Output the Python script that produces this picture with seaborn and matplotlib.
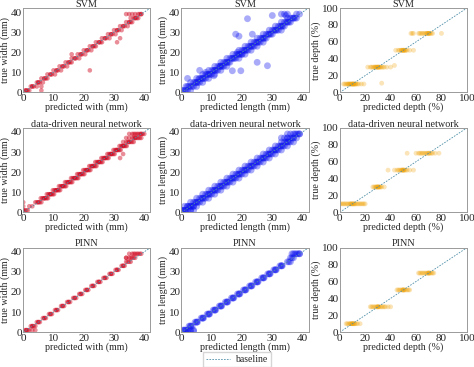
import numpy as np
import pandas as pd
import matplotlib
matplotlib.use("Agg")
import matplotlib.pyplot as plt
import seaborn as sns

# true width / length levels (mm)
levels = [1, 3, 5, 7, 9, 11, 13, 15, 17, 19, 21, 23, 25, 27, 29, 31, 33, 35, 37, 39]
# true depth levels (%)
depth_levels = [10, 30, 50, 70]

methods = ["SVM", "data-driven neural network", "PINN"]

# ---- width: predicted values per true level ----
width_svm = [
    [0.5, 1, 1, 1.5, 2], [2.5, 3, 3, 3.5, 4.5], [4.5, 5, 5, 5.5, 6.5], [6, 7, 7, 7.5, 8],
    [8, 9, 9, 9.5, 10.5], [10, 11, 11, 11.5, 12.5], [12, 13, 13, 13.5, 14.5], [14, 15, 15, 15.5, 16],
    [16, 17, 17, 17.5, 18.5], [16, 18, 19, 19, 19.5, 20.5], [20, 21, 21, 21.5, 22.5], [22, 23, 23, 23.5, 24],
    [24, 25, 25, 25.5, 26], [26, 27, 27, 27.5, 28.5], [28, 29, 29, 29.5, 30.5], [30, 31, 31, 31.5, 32.5],
    [32, 33, 33, 33.5, 34.5], [34, 35, 35, 35.5, 36], [35.5, 36.5, 37, 37, 37.5, 38],
    [34, 35, 36, 37, 38, 38.5, 39, 39],
]
width_svm_extra_x = [22, 31, 32, 6, 6]
width_svm_extra_y = [11, 25, 27, 1, 3]

width_nn = [
    [0, 0.5, 1, 1.5], [2, 3], [4, 4.5, 5, 5, 5.5, 6], [5.8, 6.3, 6.7, 7, 7, 7.4, 7.8, 8.2],
    [7.8, 8.3, 8.7, 9, 9, 9.4, 9.8, 10.2], [9.8, 10.3, 10.7, 11, 11, 11.4, 11.8, 12.2],
    [11.8, 12.3, 12.7, 13, 13, 13.4, 13.8, 14.2], [13.8, 14.3, 14.7, 15, 15, 15.4, 15.8, 16.2],
    [15.8, 16.3, 16.7, 17, 17, 17.4, 17.8, 18.2], [17.8, 18.3, 18.7, 19, 19, 19.4, 19.8, 20.2],
    [19.8, 20.3, 20.7, 21, 21, 21.4, 21.8, 22.2], [21.8, 22.3, 22.7, 23, 23, 23.4, 23.8, 24.2],
    [23.8, 24.3, 24.7, 25, 25, 25.4, 25.8, 26.2], [25.8, 26.3, 26.7, 27, 27, 27.4, 27.8, 28.2],
    [27.8, 28.3, 28.7, 29, 29, 29.4, 29.8, 30.2], [29.8, 30.3, 30.7, 31, 31, 31.4, 31.8, 32.2],
    [31.8, 32.3, 32.7, 33, 33, 33.4, 33.8, 34.2], [33, 34, 34.5, 35, 35, 35.5, 36, 36.5],
    [34, 35, 36, 36.5, 37, 37, 37.5, 38, 38.5, 39],
    [35, 36, 36.5, 37, 37.5, 38, 38.5, 39, 39, 39.5, 40],
]
width_nn_extra_x = [0, 0, 0, 33, 32]
width_nn_extra_y = [1, 3, 5, 29, 27]

width_pinn = [
    [0.5, 1, 1, 1.5, 2], [2.5, 3, 3, 3.5, 4], [4.5, 5, 5, 5.5], [6.5, 7, 7, 7.5],
    [8.5, 9, 9, 9.5], [10.5, 11, 11, 11.5], [12.5, 13, 13, 13.5], [14.5, 15, 15, 15.5],
    [16.5, 17, 17, 17.5], [18.5, 19, 19, 19.5], [20.5, 21, 21, 21.5], [22.5, 23, 23, 23.5],
    [24.5, 25, 25, 25.5], [26.5, 27, 27, 27.5], [28.5, 29, 29, 29.5], [30.5, 31, 31, 31.5],
    [32.5, 33, 33, 33.5], [34, 34.5, 35, 35.5], [34, 35, 35.5, 36, 36.5, 37],
    [35, 36, 36.5, 37, 37.5, 38, 38.5, 39],
]
width_pinn_extra_x = [3, 4, 34]
width_pinn_extra_y = [1, 1, 37]

# ---- length: predicted values per true level ----
length_svm = [
    [0, 0.5, 1, 1.5, 2, 3], [1.5, 2, 2.5, 3, 3.5, 4, 5], [3, 4, 4.5, 5, 5, 5.5, 6, 7],
    [5, 6, 6.5, 7, 7, 7.5, 8, 9], [7, 8, 8.5, 9, 9, 9.5, 10, 11], [9, 10, 10.5, 11, 11, 11.5, 12, 13],
    [11, 12, 12.5, 13, 13, 13.5, 14, 15], [13, 14, 14.5, 15, 15, 15.5, 16],
    [15, 16, 16.5, 17, 17, 17.5, 18, 19], [17, 18, 18.5, 19, 19, 19.5, 20, 21],
    [19, 20, 20.5, 21, 21, 21.5, 22, 23], [21, 22, 22.5, 23, 23, 23.5, 24, 25],
    [23, 24, 24.5, 25, 25, 25.5, 26, 27], [25, 26, 26.5, 27, 27, 27.5, 28],
    [27, 28, 28.5, 29, 29, 29.5, 30], [29, 30, 30.5, 31, 31, 31.5, 32, 33],
    [31, 32, 32.5, 33, 33, 33.5, 34], [33, 34, 34.5, 35, 35, 35.5, 36],
    [35, 36, 36.5, 37, 37, 37.5, 38], [33, 34, 35, 38, 39],
]
length_svm_extra_x = [8, 5.7, 12.9, 18.5, 20, 17.9, 19, 21.8, 23.4, 19.6, 16.8, 25, 28.4, 30, 34.5, 10.7, 6, 2]
length_svm_extra_y = [10, 6.7, 13.3, 20, 19, 29, 28, 36.7, 29, 10.8, 10.8, 15, 13.3, 38.3, 38.3, 8.3, 11, 7]

length_nn = [
    [0, 0.5, 1, 1, 1.5, 2, 3, 4], [1, 2, 2.5, 3, 3, 3.5, 4, 5], [3, 4, 4.5, 5, 5, 5.5, 6, 7],
    [5, 6, 6.5, 7, 7, 7.5, 8, 9], [7, 8, 8.5, 9, 9, 9.5, 10, 11], [9, 10, 10.5, 11, 11, 11.5, 12, 13],
    [11, 12, 12.5, 13, 13, 13.5, 14, 15], [13, 14, 14.5, 15, 15, 15.5, 16, 17],
    [15, 16, 16.5, 17, 17, 17.5, 18, 19], [17, 18, 18.5, 19, 19, 19.5, 20, 21],
    [19, 20, 20.5, 21, 21, 21.5, 22, 23], [21, 22, 22.5, 23, 23, 23.5, 24, 25],
    [23, 24, 24.5, 25, 25, 25.5, 26, 27], [25, 26, 26.5, 27, 27, 27.5, 28, 29],
    [27, 28, 28.5, 29, 29, 29.5, 30, 31], [29, 30, 30.5, 31, 31, 31.5, 32, 33],
    [31, 32, 32.5, 33, 33, 33.5, 34, 35], [33, 34, 34.5, 35, 35, 35.5, 36, 37],
    [33, 34, 35, 36, 36.5, 37, 37, 38], [35, 36, 37, 37.5, 38, 38.5, 39, 39],
]
length_nn_extra_x = [2, 3, 4, 35]
length_nn_extra_y = [3, 1, 3, 37]

length_pinn = [
    [0.5, 1, 1, 1.5, 2, 3, 4], [2.5, 3, 3, 3.5], [4.5, 5, 5, 5.3], [6.5, 7, 7, 7.3],
    [8.5, 9, 9, 9.3], [10.5, 11, 11, 11.3], [12.5, 13, 13, 13.3], [14.5, 15, 15, 15.3],
    [16.5, 17, 17, 17.3], [18.5, 19, 19, 19.3], [20.5, 21, 21, 21.3], [22.5, 23, 23, 23.3],
    [24.5, 25, 25, 25.3], [26.5, 27, 27, 27.3], [28.5, 29, 29, 29.3], [30.5, 31, 31, 31.3],
    [32.5, 33, 33, 33.3], [35, 35.5, 36], [36, 36.5, 37], [36.5, 37, 37.5, 38, 38.5, 39, 39],
]
length_pinn_extra_x = [2, 3, 4]
length_pinn_extra_y = [0, 0, 0.5]

# ---- depth: predicted values per true level ----
depth_svm = [
    [3, 4, 5, 6, 6.5, 7, 7.5, 8, 8.5, 9, 9.5, 10, 10, 10.5, 11, 11, 11.5, 12, 12.5, 13, 14, 15, 17, 19],
    [22, 24, 25, 26, 27, 27.5, 28, 28.5, 29, 29.5, 30, 30, 30.5, 31, 31.5, 32, 33, 34, 35, 37, 40],
    [44, 46, 47, 48, 48.5, 49, 49.5, 50, 50, 50.5, 51, 51.5, 52, 53, 55, 58],
    [56, 57, 58, 62, 63, 64, 65, 66, 67, 68, 68.5, 69, 69.5, 70, 70, 70.5, 71, 72, 73, 80],
]
depth_svm_extra_x = [33, 43]
depth_svm_extra_y = [11, 32]

depth_nn = [
    [0, 1, 2, 3, 4, 5, 6, 7, 8, 8.5, 9, 9.5, 10, 10.5, 11, 11.5, 12, 13, 14, 15, 16, 17, 18, 19, 20],
    [26, 27, 28, 28.5, 29, 29.5, 30, 30, 30.5, 31, 31.5, 32, 33, 35],
    [43, 45, 46, 47, 48, 48.5, 49, 49.5, 50, 50, 50.5, 51, 52, 53, 55, 58],
    [60, 62, 63, 64, 65, 66, 67, 68, 69, 70, 70, 71, 72, 73, 75, 78],
]
depth_nn_extra_x = [38, 53]
depth_nn_extra_y = [50, 70]

depth_pinn = [
    [5, 6, 7, 8, 8.5, 9, 9.5, 10, 10, 10.5, 11, 11.5, 12, 13, 14, 16],
    [24, 25, 26, 27, 28, 29, 29.5, 30, 30, 30.5, 31, 32, 33, 34, 35, 36, 38, 40],
    [45, 46, 47, 48, 49, 49.5, 50, 50, 50.5, 51, 52, 53, 54, 55],
    [62, 63, 64, 65, 66, 67, 68, 69, 69.5, 70, 70, 70.5, 71, 72, 73, 74],
]
depth_pinn_extra_x = []
depth_pinn_extra_y = []


def frame(lv, preds, ex, ey):
    rows = [(p, t) for t, ps in zip(lv, preds) for p in ps]
    rows += list(zip(ex, ey))
    return pd.DataFrame(rows, columns=["pred", "true"])


sns.set_style("white")
plt.rcParams["font.family"] = ["Liberation Serif", "DejaVu Serif"]
plt.rcParams["font.size"] = 7.2

fig, axes = plt.subplots(3, 3, figsize=(4.74, 3.67), dpi=100)
fig.subplots_adjust(left=0.049, right=0.985, top=0.978, bottom=0.095, wspace=0.245, hspace=0.42)

width_data = [(width_svm, width_svm_extra_x, width_svm_extra_y),
              (width_nn, width_nn_extra_x, width_nn_extra_y),
              (width_pinn, width_pinn_extra_x, width_pinn_extra_y)]
length_data = [(length_svm, length_svm_extra_x, length_svm_extra_y),
               (length_nn, length_nn_extra_x, length_nn_extra_y),
               (length_pinn, length_pinn_extra_x, length_pinn_extra_y)]
depth_data = [(depth_svm, depth_svm_extra_x, depth_svm_extra_y),
              (depth_nn, depth_nn_extra_x, depth_nn_extra_y),
              (depth_pinn, depth_pinn_extra_x, depth_pinn_extra_y)]

line_color = "#4f8fa8"

for r, name in enumerate(methods):
    # width
    ax = axes[r, 0]
    df = frame(levels, *width_data[r])
    ax.plot([0, 42], [0, 42], ls="--", lw=0.6, color=line_color, dashes=(2, 1.5), label="baseline")
    sns.scatterplot(data=df, x="pred", y="true", ax=ax, color="#d0021b", alpha=0.45, s=11,
                    edgecolor="none", linewidth=0, legend=False)
    ax.set_xlim(0, 42)
    ax.set_ylim(0, 42)
    ax.set_xticks([0, 10, 20, 30, 40])
    ax.set_yticks([0, 10, 20, 30, 40])
    ax.set_xlabel("predicted with (mm)")
    ax.set_ylabel("true width (mm)")

    # length
    ax = axes[r, 1]
    df = frame(levels, *length_data[r])
    ax.plot([0, 42], [0, 42], ls="--", lw=0.6, color=line_color, dashes=(2, 1.5))
    sns.scatterplot(data=df, x="pred", y="true", ax=ax, color="#0a10f0", alpha=0.35, s=24,
                    edgecolor="none", linewidth=0, legend=False)
    ax.set_xlim(0, 42)
    ax.set_ylim(0, 42)
    ax.set_xticks([0, 10, 20, 30, 40])
    ax.set_yticks([0, 10, 20, 30, 40])
    ax.set_xlabel("predicted length (mm)")
    ax.set_ylabel("true length (mm)")

    # depth
    ax = axes[r, 2]
    df = frame(depth_levels, *depth_data[r])
    ax.plot([0, 100], [0, 100], ls="--", lw=0.6, color=line_color, dashes=(2, 1.5))
    sns.scatterplot(data=df, x="pred", y="true", ax=ax, color="#f0a000", alpha=0.28, s=12,
                    edgecolor="none", linewidth=0, legend=False)
    ax.set_xlim(0, 100)
    ax.set_ylim(0, 100)
    ax.set_xticks([0, 20, 40, 60, 80, 100])
    ax.set_yticks([0, 20, 40, 60, 80, 100])
    ax.set_xlabel("predicted depth (%)")
    ax.set_ylabel("true depth (%)")

    for ax in axes[r]:
        ax.set_title(name, fontsize=7.3, pad=1)
        ax.tick_params(length=0, pad=1, labelsize=8)
        ax.xaxis.labelpad = 0
        ax.yaxis.labelpad = 0.5
        for sp in ax.spines.values():
            sp.set_color("#9a9a9a")
            sp.set_linewidth(0.7)

handles, labels = axes[0, 0].get_legend_handles_labels()
fig.legend(handles[:1], labels[:1], loc="center", bbox_to_anchor=(0.5, 0.02), fontsize=7,
           frameon=True, edgecolor="#cccccc", fancybox=False, handlelength=2.4,
           borderpad=0.3, handletextpad=0.6)

fig.savefig("out.png", dpi=100)
